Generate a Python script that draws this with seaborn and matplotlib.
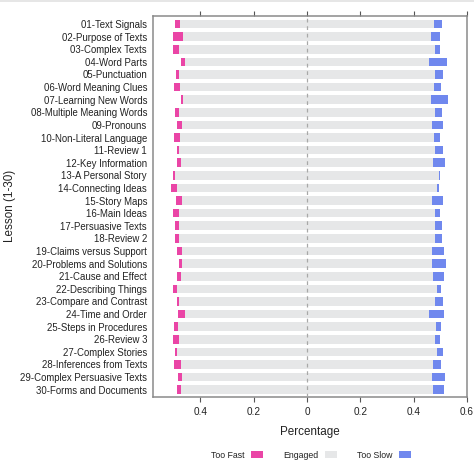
import matplotlib
matplotlib.use("Agg")
import matplotlib.pyplot as plt
from matplotlib.patches import Patch, Rectangle
from matplotlib.ticker import FuncFormatter, FixedLocator
import numpy as np
import pandas as pd
import seaborn as sns

lessons = [
    "01-Text Signals", "02-Purpose of Texts", "03-Complex Texts", "04-Word Parts",
    "05-Punctuation", "06-Word Meaning Clues", "07-Learning New Words",
    "08-Multiple Meaning Words", "09-Pronouns", "10-Non-Literal Language",
    "11-Review 1", "12-Key Information", "13-A Personal Story", "14-Connecting Ideas",
    "15-Story Maps", "16-Main Ideas", "17-Persuasive Texts", "18-Review 2",
    "19-Claims versus Support", "20-Problems and Solutions", "21-Cause and Effect",
    "22-Describing Things", "23-Compare and Contrast", "24-Time and Order",
    "25-Steps in Procedures", "26-Review 3", "27-Complex Stories",
    "28-Inferences from Texts", "29-Complex Persuasive Texts", "30-Forms and Documents",
]
too_fast = [0.019, 0.0375, 0.0225, 0.015, 0.011, 0.0225, 0.009, 0.014, 0.019, 0.024,
            0.009, 0.0125, 0.009, 0.021, 0.0225, 0.020, 0.014, 0.016, 0.016, 0.010,
            0.014, 0.014, 0.010, 0.029, 0.015, 0.024, 0.006, 0.025, 0.015, 0.015]
too_slow = [0.030, 0.035, 0.021, 0.0675, 0.030, 0.026, 0.065, 0.026, 0.041, 0.0225,
            0.031, 0.0425, 0.006, 0.0075, 0.041, 0.0175, 0.026, 0.025, 0.045, 0.050,
            0.041, 0.015, 0.0325, 0.060, 0.0175, 0.019, 0.021, 0.030, 0.0475, 0.040]
engaged = [0.952, 0.929, 0.957, 0.918, 0.959, 0.951, 0.929, 0.960, 0.939, 0.953,
           0.959, 0.948, 0.988, 0.975, 0.939, 0.962, 0.960, 0.960, 0.940, 0.940,
           0.948, 0.975, 0.958, 0.912, 0.970, 0.960, 0.975, 0.948, 0.939, 0.947]
x_ticks = [-0.4, -0.2, 0.0, 0.2, 0.4, 0.6]
legend_labels = ["Too Fast", "Engaged", "Too Slow"]

PINK = "#EA45A6"
GREY = "#E6E7E8"
BLUE = "#7088EE"

sns.set_theme(style="white")
plt.rcParams["font.family"] = ["Liberation Sans", "DejaVu Sans"]

df = pd.DataFrame({"lesson": lessons, "fast": too_fast, "slow": too_slow, "eng": engaged})
df["left_total"] = -(df["eng"] / 2 + df["fast"])
df["left_eng"] = -(df["eng"] / 2)
df["right_total"] = df["eng"] / 2 + df["slow"]
df["right_eng"] = df["eng"] / 2

fig = plt.figure(figsize=(4.74, 4.74), dpi=100)
ax = fig.add_axes([0.322, 0.1624, 0.663, 0.8045])

W = 0.68
common = dict(data=df, y="lesson", order=lessons, width=W, saturation=1,
              errorbar=None, linewidth=0, ax=ax)
sns.barplot(x="left_total", color=PINK, **common)
sns.barplot(x="left_eng", color=GREY, **common)
sns.barplot(x="right_total", color=BLUE, **common)
sns.barplot(x="right_eng", color=GREY, **common)

ax.axvline(0, color="#a8a8a8", lw=0.9, ls=(0, (3, 3)), zorder=5)

ax.set_xlim(-0.579, 0.6)
ax.set_ylim(29.58, -0.66)
ax.xaxis.set_major_locator(FixedLocator(x_ticks))
ax.xaxis.set_major_formatter(FuncFormatter(lambda v, p: "0" if abs(v) < 1e-9 else f"{abs(v):.1f}"))
ax.tick_params(axis="x", which="both", direction="out", length=3.5, width=0.8,
               color="#555555", labelsize=7.2, labelcolor="#222222", pad=4,
               top=True, bottom=True, labeltop=False)
ax.tick_params(axis="y", length=0, labelsize=6.9, labelcolor="#222222", pad=4)

for s in ax.spines.values():
    s.set_visible(True)
    s.set_color("#8a8a8a")
    s.set_linewidth(1.1)

ax.set_xlabel("Percentage", fontsize=8.4, color="#222222")
ax.set_ylabel("Lesson (1-30)", fontsize=8.4, color="#222222")
ax.xaxis.set_label_coords(0.5, -0.076)
ax.yaxis.set_label_coords(-0.436, 0.5)

handles = [Patch(facecolor=PINK, edgecolor="none"),
           Patch(facecolor=GREY, edgecolor="none"),
           Patch(facecolor=BLUE, edgecolor="none")]
fig.legend(handles, legend_labels, loc="center", bbox_to_anchor=(0.656, 0.04),
           ncol=3, frameon=False, markerfirst=False, fontsize=6.3,
           handlelength=1.35, handleheight=0.85, handletextpad=0.75, columnspacing=2.3,
           labelcolor="#222222")

fig.patches.append(Rectangle((0, 0.995), 1, 0.005, transform=fig.transFigure,
                             facecolor="#e6e6e6", edgecolor="none"))

fig.savefig("out.png", dpi=100)
